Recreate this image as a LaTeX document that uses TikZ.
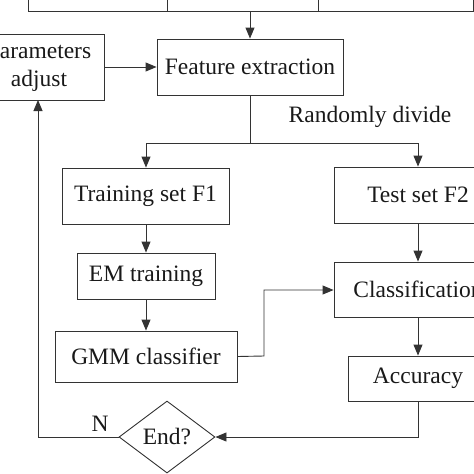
\documentclass[tikz,border=0pt]{standalone}
\usepackage{fontspec}
\setmainfont{Liberation Serif}
\usetikzlibrary{shapes.geometric,arrows.meta}
\begin{document}
\begin{tikzpicture}[x=1pt,y=-1pt,
  every node/.style={font=\fontsize{23.5}{28.2}\selectfont, text=black!90},
  box/.style={draw=black!80, line width=0.9pt, rectangle, inner sep=0pt, align=center},
  dec/.style={draw=black!80, line width=0.9pt, diamond, inner sep=0pt},
  conn/.style={draw=black!80, line width=0.9pt},
  arr/.style={conn, -{Triangle[length=11pt,width=9pt]}},
  lbl/.style={inner sep=0pt}]
\useasboundingbox (0,0) rectangle (474,474);
\clip (0,0) rectangle (474,474);
% top (cut) boxes
\node[box, minimum width=139pt, minimum height=61pt] (top1) at (97.5,-19.5) {};
\node[box, minimum width=151pt, minimum height=61pt] (top2) at (242.5,-19.5) {};
\node[box, minimum width=155pt, minimum height=61pt] (top3) at (395.5,-19.5) {};
% main boxes
\node[box, minimum width=186pt, minimum height=56pt] (fe) at (250,67) {Feature extraction};
\node[box, minimum width=130pt, minimum height=66pt] (pa) at (39,67) {Parameters\\adjust};
\node[box, minimum width=167pt, minimum height=56pt] (tr) at (145.5,196) {Training set F1};
\node[box, minimum width=138pt, minimum height=46pt] (em) at (146,276) {EM training};
\node[box, minimum width=182pt, minimum height=51pt] (gmm) at (146,356.5) {GMM classifier};
\node[box, minimum width=168pt, minimum height=56pt] (te) at (418,195) {Test set F2};
\node[box, minimum width=168pt, minimum height=55pt] (cl) at (418,289.5) {Classification};
\node[box, minimum width=140pt, minimum height=45pt] (ac) at (418,378.5) {Accuracy};
\node[dec, minimum width=96pt, minimum height=72pt] (end) at (167,437) {End?};
% labels
\node[lbl] (rd) at (370,117) {Randomly divide};
\node[lbl] (nl) at (100,424) {N};
\node[lbl] (yl) at (192,484) {Y};
% helper coordinates
\coordinate (tp) at (250,11);
\coordinate (sp) at (250,143);
\coordinate (spl) at (146,143);
\coordinate (spr) at (418,143);
\coordinate (g1) at (264,356);
\coordinate (g2) at (264,290);
\coordinate (a1) at (418,437);
\coordinate (n1) at (38,437);
\coordinate (n2) at (38,100);
% connectors
\draw[arr] (tp) -- (fe.north);
\draw[arr] (pa.east) -- (fe.west);
\draw[conn] (fe.south) -- (sp);
\draw[conn] (spl) -- (spr);
\draw[arr] (spl) -- (tr.north -| spl);
\draw[arr] (spr) -- (te.north);
\draw[arr] (tr.south -| em.north) -- (em.north);
\draw[arr] (em.south) -- (gmm.north);
\draw[arr] (gmm.east) -- (g1) -- (g2) -- (cl.west |- g2);
\draw[arr] (te.south) -- (cl.north);
\draw[arr] (cl.south) -- (ac.north);
\draw[arr] (ac.south) -- (a1) -- (end.east);
\draw[arr] (end.west) -- (n1) -- (n2);
\end{tikzpicture}
\end{document}
